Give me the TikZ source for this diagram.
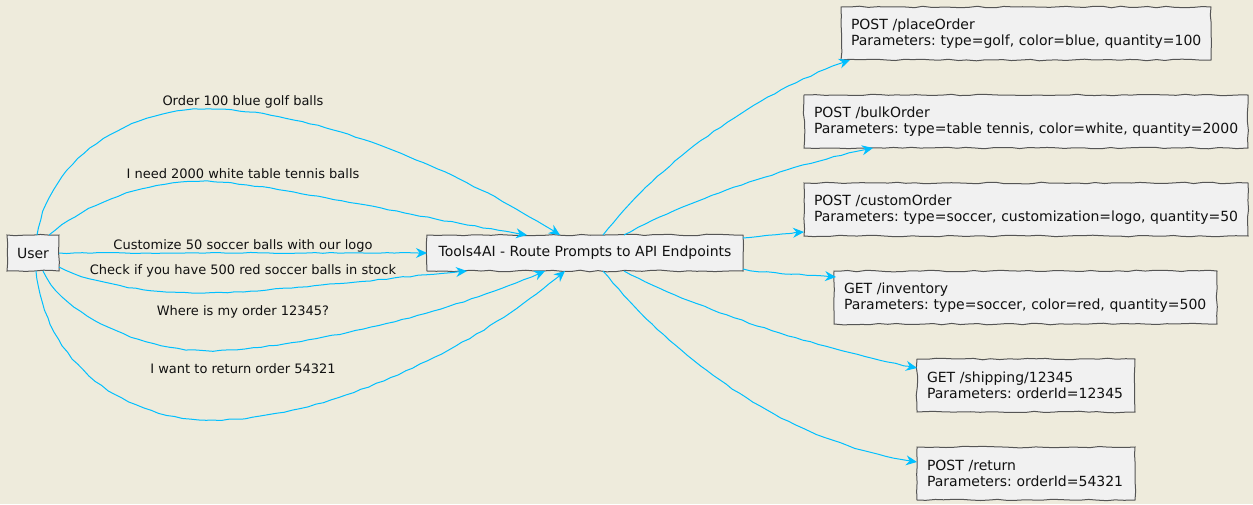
\documentclass[tikz,border=0pt]{standalone}
\usepackage{fontspec}
\setmainfont{DejaVu Sans}
\usetikzlibrary{decorations.pathmorphing,arrows.meta}
\definecolor{bgc}{HTML}{EEEBDC}
\definecolor{boxc}{HTML}{F1F1F1}
\definecolor{linec}{HTML}{00BFFF}
\definecolor{edgec}{HTML}{555555}
\definecolor{textc}{HTML}{111111}
\pgfmathsetseed{7}
\frenchspacing
\tikzset{
  base/.style={font=\fontsize{13}{16}\selectfont\frenchspacing,text=textc},
  boxn/.style={base,font=\fontsize{14}{16}\selectfont\frenchspacing,draw=edgec,fill=boxc,line width=1pt,inner sep=0pt,outer sep=0pt,align=left,
    decorate,decoration={random steps,segment length=9pt,amplitude=.8pt}},
  lab/.style={base,inner sep=0pt},
  conn/.style={draw=linec,line width=1pt,
    -{Stealth[inset=3.6pt,length=11pt,width=10pt]},
    decorate,decoration={random steps,segment length=8pt,amplitude=.55pt,post length=9pt}},
}
\begin{document}
\begin{tikzpicture}[x=1pt,y=-1pt]
\fill[bgc] (0,0) rectangle (1253,504);
\useasboundingbox (0,0) rectangle (1253,504);
\node[boxn,minimum width=52pt,minimum height=36pt,align=center] (user) at (33,253) {User};
\node[boxn,minimum width=316pt,minimum height=36pt,align=center] (tools) at (585,253) {Tools4AI - Route Prompts to API Endpoints};
\node[boxn,minimum width=370pt,minimum height=53pt,text width=350pt] (place) at (1026,33.5) {POST /placeOrder\\\mbox{Parameters: type=golf, color=blue, quantity=100}};
\node[boxn,minimum width=444pt,minimum height=53pt,text width=424pt] (bulk) at (1026,121.5) {POST /bulkOrder\\\mbox{Parameters: type=table tennis, color=white, quantity=2000}};
\node[boxn,minimum width=444pt,minimum height=53pt,text width=424pt] (custom) at (1026,209.5) {POST /customOrder\\\mbox{Parameters: type=soccer, customization=logo, quantity=50}};
\node[boxn,minimum width=383pt,minimum height=53pt,text width=363pt] (inv) at (1025.5,297.5) {GET /inventory\\\mbox{Parameters: type=soccer, color=red, quantity=500}};
\node[boxn,minimum width=218pt,minimum height=53pt,text width=198pt] (ship) at (1026,385.5) {GET /shipping/12345\\\mbox{Parameters: orderId=12345}};
\node[boxn,minimum width=218pt,minimum height=53pt,text width=198pt] (ret) at (1026,473.5) {POST /return\\\mbox{Parameters: orderId=54321}};

\node[lab] (l1) at (243,102) {Order 100 blue golf balls};
\node[lab] (l2) at (243,173.5) {I need 2000 white table tennis balls};
\node[lab] (l3) at (243,245.5) {Customize 50 soccer balls with our logo};
\node[lab] (l4) at (243,270.5) {Check if you have 500 red soccer balls in stock};
\node[lab] (l5) at (243,312) {Where is my order 12345?};
\node[lab] (l6) at (243,368.5) {I want to return order 54321};

\draw[conn] ([xshift=4pt]user.north) .. controls (50,160) and (125,109) .. (207,109) .. controls (310,109) and (450,165) .. ([xshift=-25pt]tools.north);
\draw[conn] ([xshift=16pt]user.north) .. controls (85,205) and (140,181) .. (207,181) .. controls (290,186) and (400,215) .. ([xshift=-58pt]tools.north);
\draw[conn] (user.east) -- (tools.west);
\draw[conn] ([yshift=4pt]user.south east) .. controls (100,287) and (160,293) .. (203,293) .. controls (260,293) and (380,279) .. ([xshift=-118pt]tools.south);
\draw[conn] ([xshift=10pt]user.south) .. controls (65,315) and (140,351) .. (213,351) .. controls (330,345) and (470,305) .. ([xshift=-40pt]tools.south);
\draw[conn] ([xshift=3pt]user.south) .. controls (45,360) and (120,420) .. (213,420) .. controls (330,420) and (480,345) .. ([xshift=-20pt]tools.south);

\draw[conn] ([xshift=18pt]tools.north) .. controls (670,150) and (770,88) .. ([xshift=-176pt]place.south);
\draw[conn] ([xshift=39pt]tools.north) .. controls (690,200) and (790,165) .. ([xshift=-153pt]bulk.south);
\draw[conn] ([yshift=15pt]tools.east) .. controls (765,236) and (785,233) .. ([yshift=-22.5pt]custom.west);
\draw[conn] ([yshift=-16pt]tools.east) .. controls (770,274) and (800,274) .. ([yshift=20.5pt,xshift=2pt]inv.west);
\draw[conn] ([xshift=39pt]tools.south) .. controls (690,305) and (800,345) .. ([yshift=17.5pt]ship.west);
\draw[conn] ([xshift=18pt]tools.south) .. controls (665,345) and (770,440) .. ([yshift=11.5pt]ret.west);
\end{tikzpicture}
\end{document}
